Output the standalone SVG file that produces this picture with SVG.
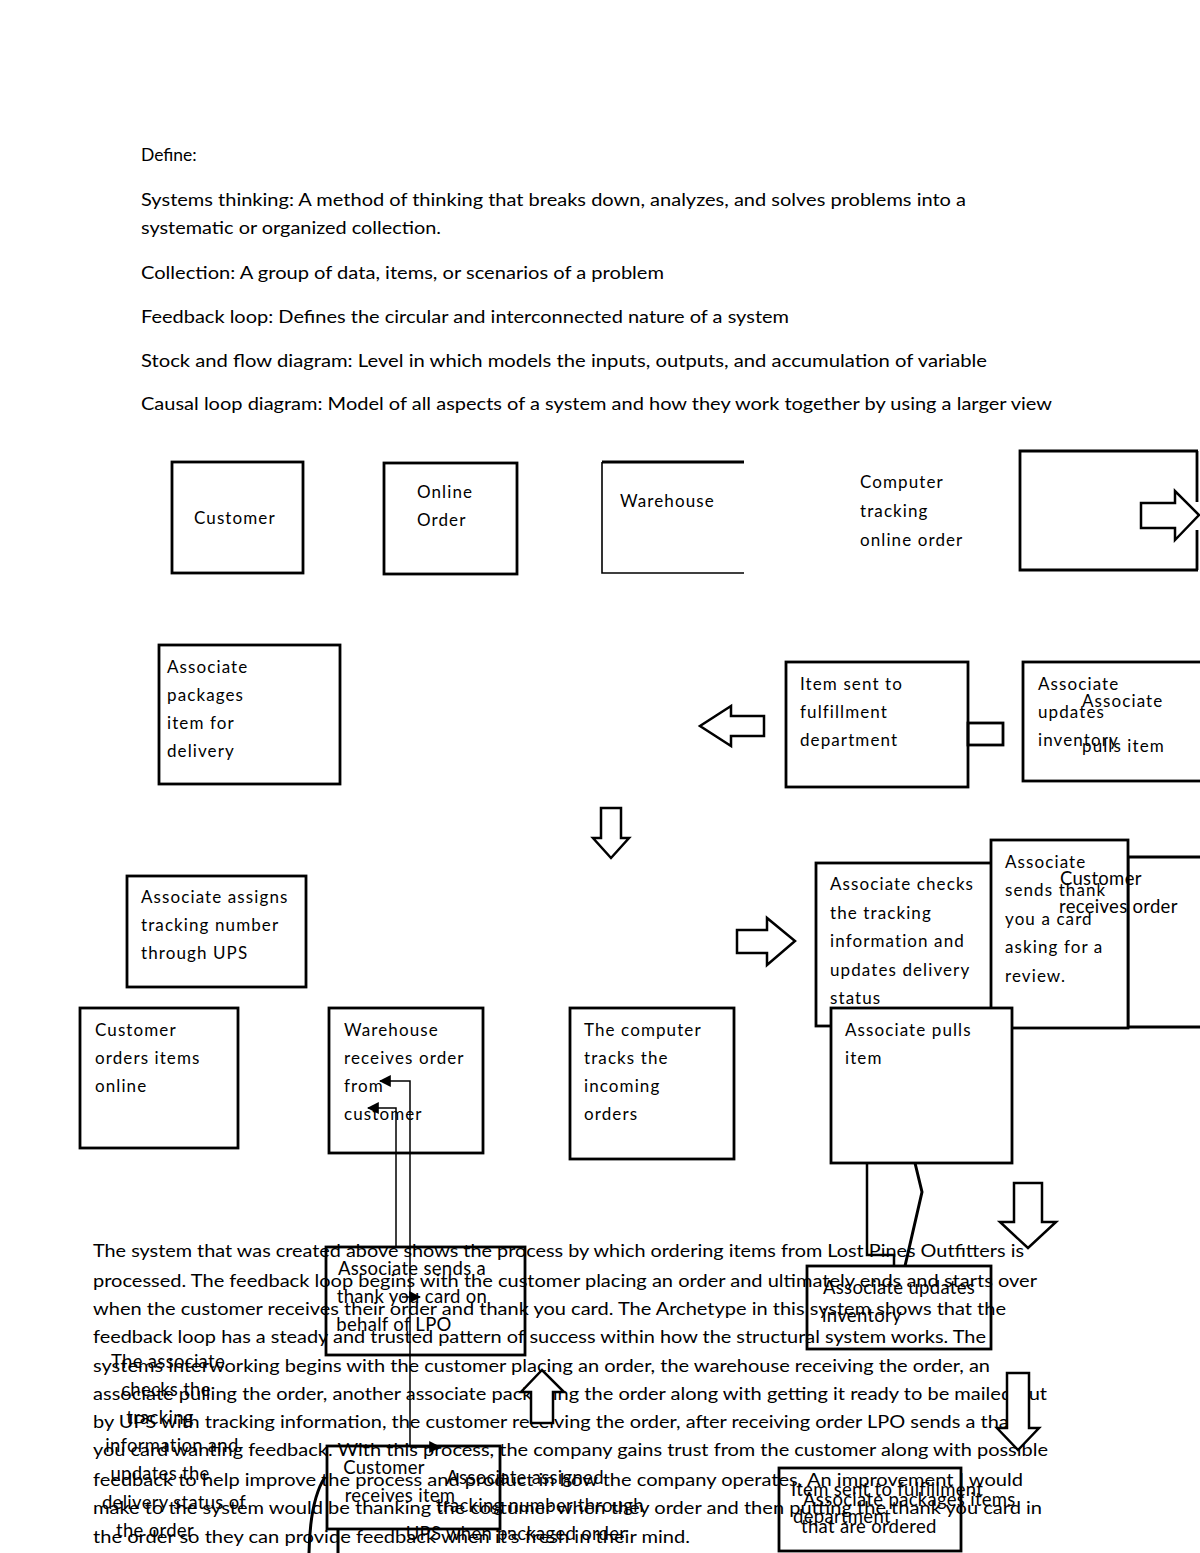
<svg xmlns="http://www.w3.org/2000/svg" width="1200" height="1553" viewBox="0 0 1200 1553">
<style>
text{font-family:Lato,"Open Sans","Liberation Sans",sans-serif;fill:#000;}
.h{font-size:17.5px;}
.p{font-size:18px;}
.b{font-size:17px;letter-spacing:1.1px;}
.o{font-size:18.5px;letter-spacing:0.3px;}
.c{text-anchor:middle;}
.box{fill:none;stroke:#000;stroke-width:2.8;}
.thin{fill:none;stroke:#000;stroke-width:1.5;}
.arr{fill:#fff;stroke:#000;stroke-width:2.5;stroke-linejoin:miter;}
</style>
<defs>
<marker id="ahb" viewBox="0 0 10 10" refX="9" refY="5" markerWidth="12" markerHeight="12" orient="auto" markerUnits="userSpaceOnUse">
<path d="M0,0 L10,5 L0,10 z" fill="#000"/>
</marker>
</defs>
<rect width="1200" height="1553" fill="#fff"/>

<g id="definitions">
<text class="h" x="141" y="161">Define:</text>
<text class="h" x="141" y="206" textLength="825" lengthAdjust="spacingAndGlyphs">Systems thinking: A method of thinking that breaks down, analyzes, and solves problems into a</text>
<text class="h" x="141" y="234" textLength="300" lengthAdjust="spacingAndGlyphs">systematic or organized collection.</text>
<text class="h" x="141" y="279" textLength="523" lengthAdjust="spacingAndGlyphs">Collection: A group of data, items, or scenarios of a problem</text>
<text class="h" x="141" y="323" textLength="648" lengthAdjust="spacingAndGlyphs">Feedback loop: Defines the circular and interconnected nature of a system</text>
<text class="h" x="141" y="367" textLength="846" lengthAdjust="spacingAndGlyphs">Stock and flow diagram:  Level in which models the inputs, outputs, and accumulation of variable</text>
<text class="h" x="141" y="410" textLength="911" lengthAdjust="spacingAndGlyphs">Causal loop diagram: Model of all aspects of a system and how they work together by using a larger view</text>
</g>

<g id="paragraph">
<text class="p" x="93" y="1257" textLength="931" lengthAdjust="spacingAndGlyphs">The system that was created above shows the process by which ordering items from Lost Pines Outfitters is</text>
<text class="p" x="93" y="1287" textLength="944" lengthAdjust="spacingAndGlyphs">processed. The feedback loop begins with the customer placing an order and ultimately ends and starts over</text>
<text class="p" x="93" y="1315" textLength="913" lengthAdjust="spacingAndGlyphs">when the customer receives their order and thank you card. The Archetype in this system shows that the</text>
<text class="p" x="93" y="1343" textLength="893" lengthAdjust="spacingAndGlyphs">feedback loop has a steady and trusted pattern of success within how the structural system works. The</text>
<text class="p" x="93" y="1372" textLength="897" lengthAdjust="spacingAndGlyphs">systems interworking begins with the customer placing an order, the warehouse receiving the order, an</text>
<text class="p" x="93" y="1400" textLength="954" lengthAdjust="spacingAndGlyphs">associate pulling the order, another associate packaging the order along with getting it ready to be mailed out</text>
<text class="p" x="93" y="1428" textLength="937" lengthAdjust="spacingAndGlyphs">by UPS with tracking information, the customer receiving the order, after receiving order LPO sends a thank</text>
<text class="p" x="93" y="1456" textLength="955" lengthAdjust="spacingAndGlyphs">you card wanting feedback. With this process, the company gains trust from the customer along with possible</text>
<text class="p" x="93" y="1486" textLength="930" lengthAdjust="spacingAndGlyphs">feedback to help improve the process and product in how the company operates. An improvement I would</text>
<text class="p" x="93" y="1514" textLength="949" lengthAdjust="spacingAndGlyphs">make to the system would be thanking the costumer when they order and then putting the thank you card in</text>
<text class="p" x="93" y="1543" textLength="597" lengthAdjust="spacingAndGlyphs">the order so they can provide feedback when it's fresh in their mind.</text>
</g>

<g id="customer">
<rect class="box" x="172" y="462" width="131" height="111"/>
<text class="b" x="194" y="524">Customer</text>
</g>
<g id="online-order">
<rect class="box" x="384" y="463" width="133" height="111"/>
<text class="b" x="417" y="498">Online</text>
<text class="b" x="417" y="526">Order</text>
</g>
<g id="warehouse">
<path d="M744,462 H602" fill="none" stroke="#000" stroke-width="3"/>
<path d="M602,462 V573 H744" fill="none" stroke="#000" stroke-width="1.6"/>
<text class="b" x="620" y="507">Warehouse</text>
</g>
<g id="computer-tracking">
<text class="b" x="860" y="488">Computer</text>
<text class="b" x="860" y="517">tracking</text>
<text class="b" x="860" y="546">online order</text>
</g>
<g id="right-box">
<path class="box" d="M1198,451 H1020 V570 H1198"/>
<path class="box" d="M1197,451 V502 M1197,530 V570"/>
<polygon class="arr" points="1141,503 1175,503 1175,491 1199,515 1175,540 1175,528 1141,528"/>
</g>

<g id="associate-packages">
<rect class="box" x="159" y="645" width="181" height="139"/>
<text class="b" x="167" y="673">Associate</text>
<text class="b" x="167" y="701">packages</text>
<text class="b" x="167" y="729">item for</text>
<text class="b" x="167" y="757">delivery</text>
</g>
<g id="item-sent">
<rect class="box" x="786" y="662" width="182" height="125"/>
<text class="b" x="800" y="690">Item sent to</text>
<text class="b" x="800" y="718">fulfillment</text>
<text class="b" x="800" y="746">department</text>
</g>
<g id="associate-updates">
<rect class="box" x="1023" y="662" width="190" height="119"/>
<text class="b" x="1038" y="690">Associate</text>
<text class="b" x="1038" y="718">updates</text>
<text class="b" x="1038" y="746">inventory</text>
<text class="b" x="1082" y="707">Associate</text>
<text class="b" x="1082" y="752">pulls item</text>
</g>

<g id="associate-assigns">
<rect class="box" x="127" y="876" width="179" height="111"/>
<text class="b" x="141" y="903">Associate assigns</text>
<text class="b" x="141" y="931">tracking number</text>
<text class="b" x="141" y="959">through UPS</text>
</g>
<g id="associate-checks">
<rect class="box" x="816" y="863" width="177" height="163"/>
<text class="b" x="830" y="890">Associate checks</text>
<text class="b" x="830" y="919">the tracking</text>
<text class="b" x="830" y="947">information and</text>
<text class="b" x="830" y="976">updates delivery</text>
<text class="b" x="830" y="1004">status</text>
</g>
<g id="customer-receives-order">
<path class="box" d="M1128,857 H1210 M1128,1027 H1210 M1128,857 V1027"/>
</g>
<g id="associate-sends">
<rect class="box" x="991" y="840" width="137" height="188" style="fill:#fff"/>
<text class="b" x="1005" y="868">Associate</text>
<text class="b" x="1005" y="896">sends thank</text>
<text class="b" x="1005" y="925">you a card</text>
<text class="b" x="1005" y="953">asking for a</text>
<text class="b" x="1005" y="982">review.</text>
<text class="o" x="1060" y="885">Customer</text>
<text class="o" x="1059" y="913">receives order</text>
</g>
<g id="associate-pulls">
<rect class="box" x="831" y="1008" width="181" height="155" style="fill:#fff"/>
<text class="b" x="845" y="1036">Associate pulls</text>
<text class="b" x="845" y="1064">item</text>
</g>

<g id="customer-orders">
<rect class="box" x="80" y="1008" width="158" height="140"/>
<text class="b" x="95" y="1036">Customer</text>
<text class="b" x="95" y="1064">orders items</text>
<text class="b" x="95" y="1092">online</text>
</g>
<g id="warehouse-receives">
<rect class="box" x="329" y="1008" width="154" height="145"/>
<text class="b" x="344" y="1036">Warehouse</text>
<text class="b" x="344" y="1064">receives order</text>
<text class="b" x="344" y="1092">from</text>
<text class="b" x="344" y="1120">customer</text>
</g>
<g id="computer-tracks">
<rect class="box" x="570" y="1008" width="164" height="151"/>
<text class="b" x="584" y="1036">The computer</text>
<text class="b" x="584" y="1064">tracks the</text>
<text class="b" x="584" y="1092">incoming</text>
<text class="b" x="584" y="1120">orders</text>
</g>

<g id="associate-sends-lpo">
<rect class="box" x="326" y="1247" width="199" height="108"/>
<text class="o c" x="412" y="1275">Associate sends a</text>
<text class="o c" x="412" y="1303">thank you card on</text>
<text class="o c" x="394" y="1331">behalf of LPO</text>
</g>
<g id="customer-receives-item">
<rect class="box" x="327" y="1446" width="173" height="83"/>
<text class="o c" x="384" y="1474">Customer</text>
<text class="o c" x="400" y="1502">receives item</text>
</g>
<g id="associate-assigned-overlay">
<text class="o c" x="525" y="1484">Associate assigned</text>
<text class="o c" x="540" y="1512">tracking number through</text>
<text class="o c" x="516" y="1540">UPS when packaged order</text>
</g>
<g id="associate-checks-overlay">
<text class="o c" x="168" y="1368">The associate</text>
<text class="o c" x="166" y="1396">checks the</text>
<text class="o c" x="160" y="1424">tracking</text>
<text class="o c" x="172" y="1452">information and</text>
<text class="o c" x="160" y="1480">updates the</text>
<text class="o c" x="174" y="1509">delivery status of</text>
<text class="o c" x="155" y="1537">the order</text>
</g>
<g id="associate-updates-inventory">
<rect class="box" x="807" y="1266" width="184" height="83"/>
<text class="o c" x="899" y="1294">Associate updates</text>
<text class="o c" x="862" y="1322">inventory</text>
</g>
<g id="item-sent-packages">
<rect class="box" x="779" y="1468" width="182" height="83"/>
<text class="o" x="791" y="1496">Item sent to fulfillment</text>
<text class="o" x="793" y="1523">department</text>
<text class="o" x="803" y="1506">Associate packages items</text>
<text class="o" x="801" y="1533">that are ordered</text>
</g>

<g id="connectors">
<polygon class="arr" points="764,716 731,716 731,706 700,726 731,746 731,736 764,736"/>
<rect class="box" x="968" y="723" width="35" height="22"/>
<polygon class="arr" points="601,808 621,808 621,838 629,838 611,858 593,838 601,838"/>
<polygon class="arr" points="737,930 767,930 767,918 795,941 767,965 767,953 737,953"/>
<path class="thin" d="M410,1447 V1081 H380" marker-end="url(#ahb)"/>
<path class="thin" d="M396,1247 V1108 H368" marker-end="url(#ahb)"/>
<path class="thin" d="M410,1447 H440" marker-end="url(#ahb)"/>
<path class="thin" d="M402,1297 H420" marker-end="url(#ahb)"/>
<polygon class="arr" points="531,1423 553,1423 553,1392 564,1392 542,1370 521,1392 531,1392"/>
<path d="M325,1477 Q310,1500 309,1553" fill="none" stroke="#000" stroke-width="3"/>
<path d="M338,1529 V1553" fill="none" stroke="#000" stroke-width="3"/>
<path d="M867,1163 V1255 H894 V1266" fill="none" stroke="#000" stroke-width="2.5"/>
<path d="M915,1163 L922,1192 L905,1266" fill="none" stroke="#000" stroke-width="3"/>
<polygon class="arr" points="1014,1183 1042,1183 1042,1222 1056,1222 1028,1248 1000,1222 1014,1222"/>
<polygon class="arr" points="1007,1373 1029,1373 1029,1428 1039,1428 1018,1450 997,1428 1007,1428"/>
</g>
</svg>
